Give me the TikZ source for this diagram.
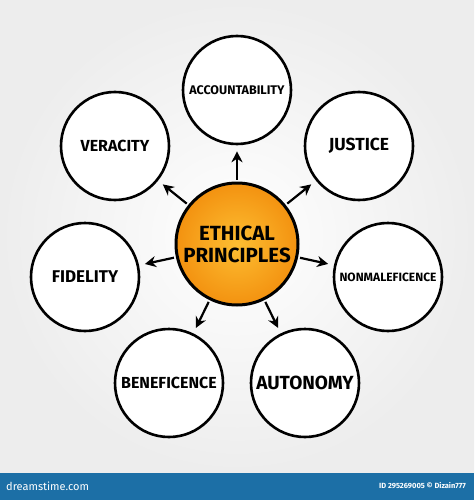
\documentclass[tikz,border=0pt]{standalone}
\usepackage{fontspec}
\setmainfont{Fira Sans}
\usepackage{xcolor}
\usetikzlibrary{arrows.meta, positioning}
\definecolor{CoreOrange}{HTML}{F39210}
\definecolor{CoreYellow}{HTML}{FDBE32}
\definecolor{StockBlue}{HTML}{1C6FA6}
\definecolor{PaperGray}{HTML}{EDEDED}

\begin{document}
\begin{tikzpicture}[
    x=1pt, y=-1pt,
    principle/.style={circle, draw=black, line width=2.6pt, fill=white,
                      minimum size=108pt, inner sep=0pt, align=center,
                      font=\bfseries\fontsize{16}{18}\selectfont},
    core/.style={circle, draw=black, line width=3pt, shading=radial,
                 inner color=CoreYellow, outer color=CoreOrange,
                 minimum size=122pt, inner sep=0pt, align=center,
                 font=\bfseries\fontsize{20.5}{22}\selectfont},
    link/.style={-{Stealth[length=11pt,width=11pt]}, line width=2.2pt,
                 shorten <=2pt, shorten >=6pt},
    stock/.style={text=white, inner sep=0pt}
]
    \useasboundingbox (0,0) rectangle (474,500);
    % Background and stock bar
    \shade[inner color=white, outer color=PaperGray] (0,0) rectangle (474,473);
    \fill[StockBlue] (0,473) rectangle (474,500);

    % Central concept
    \node[core] (ethics) at (237,244) {ETHICAL\\PRINCIPLES};

    % Principles round the centre
    \node[principle, font=\bfseries\fontsize{12.5}{15}\selectfont] (account) at (237,90) {ACCOUNTABILITY};
    \node[principle, font=\bfseries\fontsize{17.5}{18}\selectfont] (justice) at (359,146) {JUSTICE};
    \node[principle, font=\bfseries\fontsize{12}{15}\selectfont] (nonmal) at (388,277) {NONMALEFICENCE};
    \node[principle, font=\bfseries\fontsize{19}{21}\selectfont] (autonomy) at (305,383) {AUTONOMY};
    \node[principle] (benef) at (169,383) {BENEFICENCE};
    \node[principle, font=\bfseries\fontsize{17}{18}\selectfont] (fidelity) at (85,277) {FIDELITY};
    \node[principle] (veracity) at (115,146) {VERACITY};

    % Arrows out of the centre
    \draw[link] (ethics) -- (account);
    \draw[link] (ethics) -- (justice);
    \draw[link] (ethics) -- (nonmal);
    \draw[link] (ethics) -- (autonomy);
    \draw[link] (ethics) -- (benef);
    \draw[link] (ethics) -- (fidelity);
    \draw[link] (ethics) -- (veracity);

    % Stock labels
    \node[stock, anchor=west, font=\fontsize{11}{12}\selectfont] (site) at (6,486) {dreamstime.com};
    \node[stock, anchor=east, font=\bfseries\fontsize{7.5}{9}\selectfont] (imgid) at (466,486) {ID 295269005 © Dizain777};
\end{tikzpicture}
\end{document}
